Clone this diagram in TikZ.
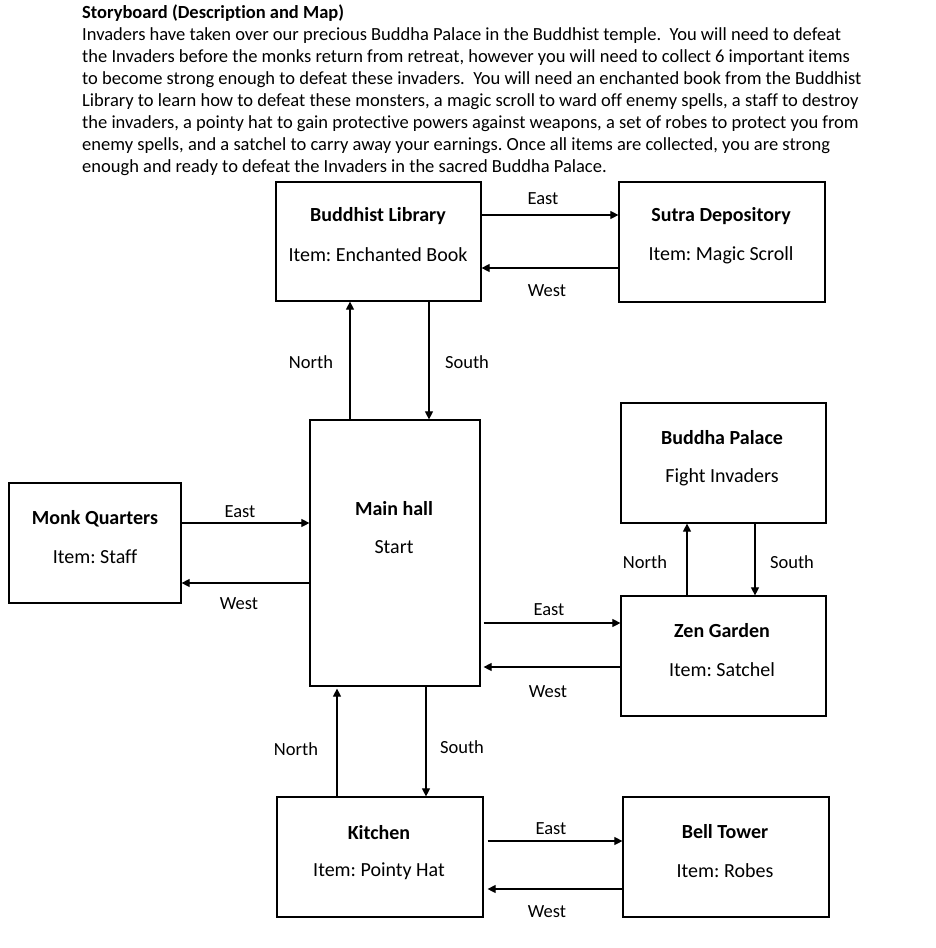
\documentclass[tikz,border=0pt]{standalone}
\usepackage{fontspec}
\setmainfont{Carlito}[RawFeature={-liga}]
\usetikzlibrary{arrows.meta}
\frenchspacing
\tikzset{
  room/.style={draw=black, line width=1.2pt, inner sep=0pt, fill=white},
  rtitle/.style={font=\fontsize{20}{22}\selectfont\bfseries, inner sep=0pt, anchor=center, yshift=-1.5pt},
  ritem/.style={font=\fontsize{20}{22}\selectfont, inner sep=0pt, anchor=center, yshift=-1pt},
  dirlab/.style={font=\fontsize{18.5}{20}\selectfont, inner sep=0pt, anchor=center, yshift=-1pt},
  arr/.style={line width=1.1pt, -{Triangle[length=8pt,width=8pt]}},
}
\begin{document}
\begin{tikzpicture}[x=1pt,y=-1pt]
\useasboundingbox (0,0) rectangle (936,948);
\fill[white] (0,0) rectangle (936,948);

% storyboard text
\node[anchor=north west, inner sep=0pt, align=left, font=\fontsize{18.5}{22}\selectfont] (story) at (82,4.5)
{\textbf{Storyboard (Description and Map)}\\
Invaders have taken over our precious Buddha Palace in the Buddhist temple.\ \ You will need to defeat\\
the Invaders before the monks return from retreat, however you will need to collect 6 important items\\
to become strong enough to defeat these invaders.\ \ You will need an enchanted book from the Buddhist\\
Library to learn how to defeat these monsters, a magic scroll to ward off enemy spells, a staff to destroy\\
the invaders, a pointy hat to gain protective powers against weapons, a set of robes to protect you from\\
enemy spells, and a satchel to carry away your earnings. Once all items are collected, you are strong\\
enough and ready to defeat the Invaders in the sacred Buddha Palace.};

% rooms
\node[room, minimum width=205pt, minimum height=119pt] (lib) at (378.5,241.5) {};
\node[room, minimum width=206pt, minimum height=120pt] (sutra) at (722,242) {};
\node[room, minimum width=170pt, minimum height=266pt] (main) at (395,553) {};
\node[room, minimum width=172pt, minimum height=120pt] (monk) at (95,543) {};
\node[room, minimum width=205pt, minimum height=120pt] (palace) at (723.5,463) {};
\node[room, minimum width=205pt, minimum height=120pt] (zen) at (723.5,656) {};
\node[room, minimum width=206pt, minimum height=120pt] (kitchen) at (380,857) {};
\node[room, minimum width=206pt, minimum height=120pt] (bell) at (726,857) {};

% room texts
\node[rtitle] (libT) at (378,215) {Buddhist Library};
\node[ritem] (libI) at (378,254) {Item: Enchanted Book};
\node[rtitle] (sutraT) at (721,215) {Sutra Depository};
\node[ritem] (sutraI) at (721,254) {Item: Magic Scroll};
\node[rtitle] (mainT) at (394,507) {Main hall};
\node[ritem] (mainI) at (394,546) {Start};
\node[rtitle] (monkT) at (95,517) {Monk Quarters};
\node[ritem] (monkI) at (95,556) {Item: Staff};
\node[rtitle] (palaceT) at (722,436) {Buddha Palace};
\node[ritem] (palaceI) at (722,476) {Fight Invaders};
\node[rtitle] (zenT) at (722,629) {Zen Garden};
\node[ritem] (zenI) at (722,669) {Item: Satchel};
\node[rtitle] (kitchenT) at (379,831) {Kitchen};
\node[ritem] (kitchenI) at (379,870) {Item: Pointy Hat};
\node[rtitle] (bellT) at (725,830) {Bell Tower};
\node[ritem] (bellI) at (725,870) {Item: Robes};

% connectors
\draw[arr] (lib.east |- 0,215) -- (sutra.west |- 0,215);
\draw[arr] (sutra.west |- 0,268) -- (lib.east |- 0,268);
\draw[arr] (main.north -| 350,0) -- (lib.south -| 350,0);
\draw[arr] (lib.south -| 429,0) -- (main.north -| 429,0);
\draw[arr] (monk.east |- 0,523) -- (main.west |- 0,523);
\draw[arr] (main.west |- 0,583) -- (monk.east |- 0,583);
\draw[arr, shorten <=3pt] (main.east |- 0,623) -- (zen.west |- 0,623);
\draw[arr, shorten >=3pt] (zen.west |- 0,667) -- (main.east |- 0,667);
\draw[arr] (zen.north -| 687,0) -- (palace.south -| 687,0);
\draw[arr] (palace.south -| 755,0) -- (zen.north -| 755,0);
\draw[arr, shorten >=2pt] (kitchen.north -| 337,0) -- (main.south -| 337,0);
\draw[arr] (main.south -| 426,0) -- (kitchen.north -| 426,0);
\draw[arr, shorten <=4pt] (kitchen.east |- 0,841) -- (bell.west |- 0,841);
\draw[arr, shorten >=4pt] (bell.west |- 0,889) -- (kitchen.east |- 0,889);

% direction labels
\node[dirlab] (l1) at (543,198) {East};
\node[dirlab] (l2) at (547,290) {West};
\node[dirlab] (l3) at (311,361) {North};
\node[dirlab] (l4) at (467,361) {South};
\node[dirlab] (l5) at (240,511) {East};
\node[dirlab] (l6) at (239,603) {West};
\node[dirlab] (l7) at (549,609) {East};
\node[dirlab] (l8) at (548,691) {West};
\node[dirlab] (l9) at (645,561) {North};
\node[dirlab] (l10) at (792,561) {South};
\node[dirlab] (l11) at (296,748) {North};
\node[dirlab] (l12) at (462,746) {South};
\node[dirlab] (l13) at (551,828) {East};
\node[dirlab] (l14) at (547,911) {West};
\end{tikzpicture}
\end{document}
